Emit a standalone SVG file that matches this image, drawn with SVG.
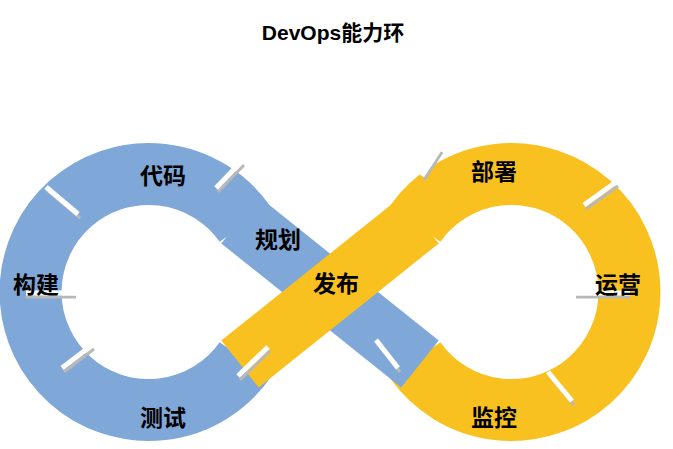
<svg xmlns="http://www.w3.org/2000/svg" width="673" height="449" viewBox="0 0 673 449">
<style>
.lbl{font-family:"Noto Sans CJK SC",sans-serif;font-size:23px;font-weight:bold;fill:#000;text-anchor:middle}
.sep{stroke:#fff;stroke-width:5}
.sh{stroke:#b8b8b8;stroke-width:3}
</style>
<rect width="673" height="449" fill="#fff"/>
<text x="333" y="40" font-family="Liberation Sans,Noto Sans CJK SC,sans-serif" font-size="21" font-weight="bold" text-anchor="middle">DevOps能力环</text>
<g id="connectors">
<path id="blue-ring" d="M245,224 A118,118 0 1 0 245,360" fill="none" stroke="#7fa7d8" stroke-width="62"/>
<path id="yellow-ring" d="M415,224 A118,118 0 1 1 415,360" fill="none" stroke="#f9c120" stroke-width="62"/>
<line id="blue-band" x1="240" y1="220" x2="420" y2="364" stroke="#7fa7d8" stroke-width="60"/>
<line id="yellow-band" x1="240" y1="364" x2="420" y2="220" stroke="#f9c120" stroke-width="60"/>
<g>
<line class="sh" x1="48" y1="191" x2="80" y2="218"/><line class="sep" x1="46" y1="187" x2="78" y2="214"/>
<line class="sh" x1="218" y1="192" x2="244" y2="165"/><line class="sep" x1="216" y1="188" x2="242" y2="161"/>
<line class="sh" x1="26" y1="297" x2="76" y2="297"/><line class="sep" x1="26" y1="293" x2="76" y2="293"/>
<line class="sh" x1="64" y1="372" x2="94" y2="349"/><line class="sep" x1="62" y1="368" x2="92" y2="345"/>
<line class="sh" x1="240" y1="380" x2="270" y2="351"/><line class="sep" x1="238" y1="376" x2="268" y2="347"/>
<line class="sh" x1="424" y1="180" x2="442" y2="152"/><line class="sep" x1="422" y1="176" x2="440" y2="148"/>
<line class="sh" x1="586" y1="209" x2="618" y2="186"/><line class="sep" x1="584" y1="205" x2="616" y2="182"/>
<line class="sh" x1="576" y1="297" x2="630" y2="297"/><line class="sep" x1="576" y1="293" x2="630" y2="293"/>
<line class="sh" x1="550" y1="376" x2="574" y2="405"/><line class="sep" x1="548" y1="372" x2="572" y2="401"/>
<line class="sh" x1="378" y1="344" x2="400" y2="372"/><line class="sep" x1="376" y1="340" x2="398" y2="368"/>
</g>
</g>
<g id="n1"><text class="lbl" x="163" y="184">代码</text></g>
<g id="n2"><text class="lbl" x="36" y="293">构建</text></g>
<g id="n3"><text class="lbl" x="163" y="426">测试</text></g>
<g id="n4"><text class="lbl" x="278" y="248">规划</text></g>
<g id="n5"><text class="lbl" x="336" y="292">发布</text></g>
<g id="n6"><text class="lbl" x="494" y="180">部署</text></g>
<g id="n7"><text class="lbl" x="618" y="293">运营</text></g>
<g id="n8"><text class="lbl" x="494" y="426">监控</text></g>
</svg>
